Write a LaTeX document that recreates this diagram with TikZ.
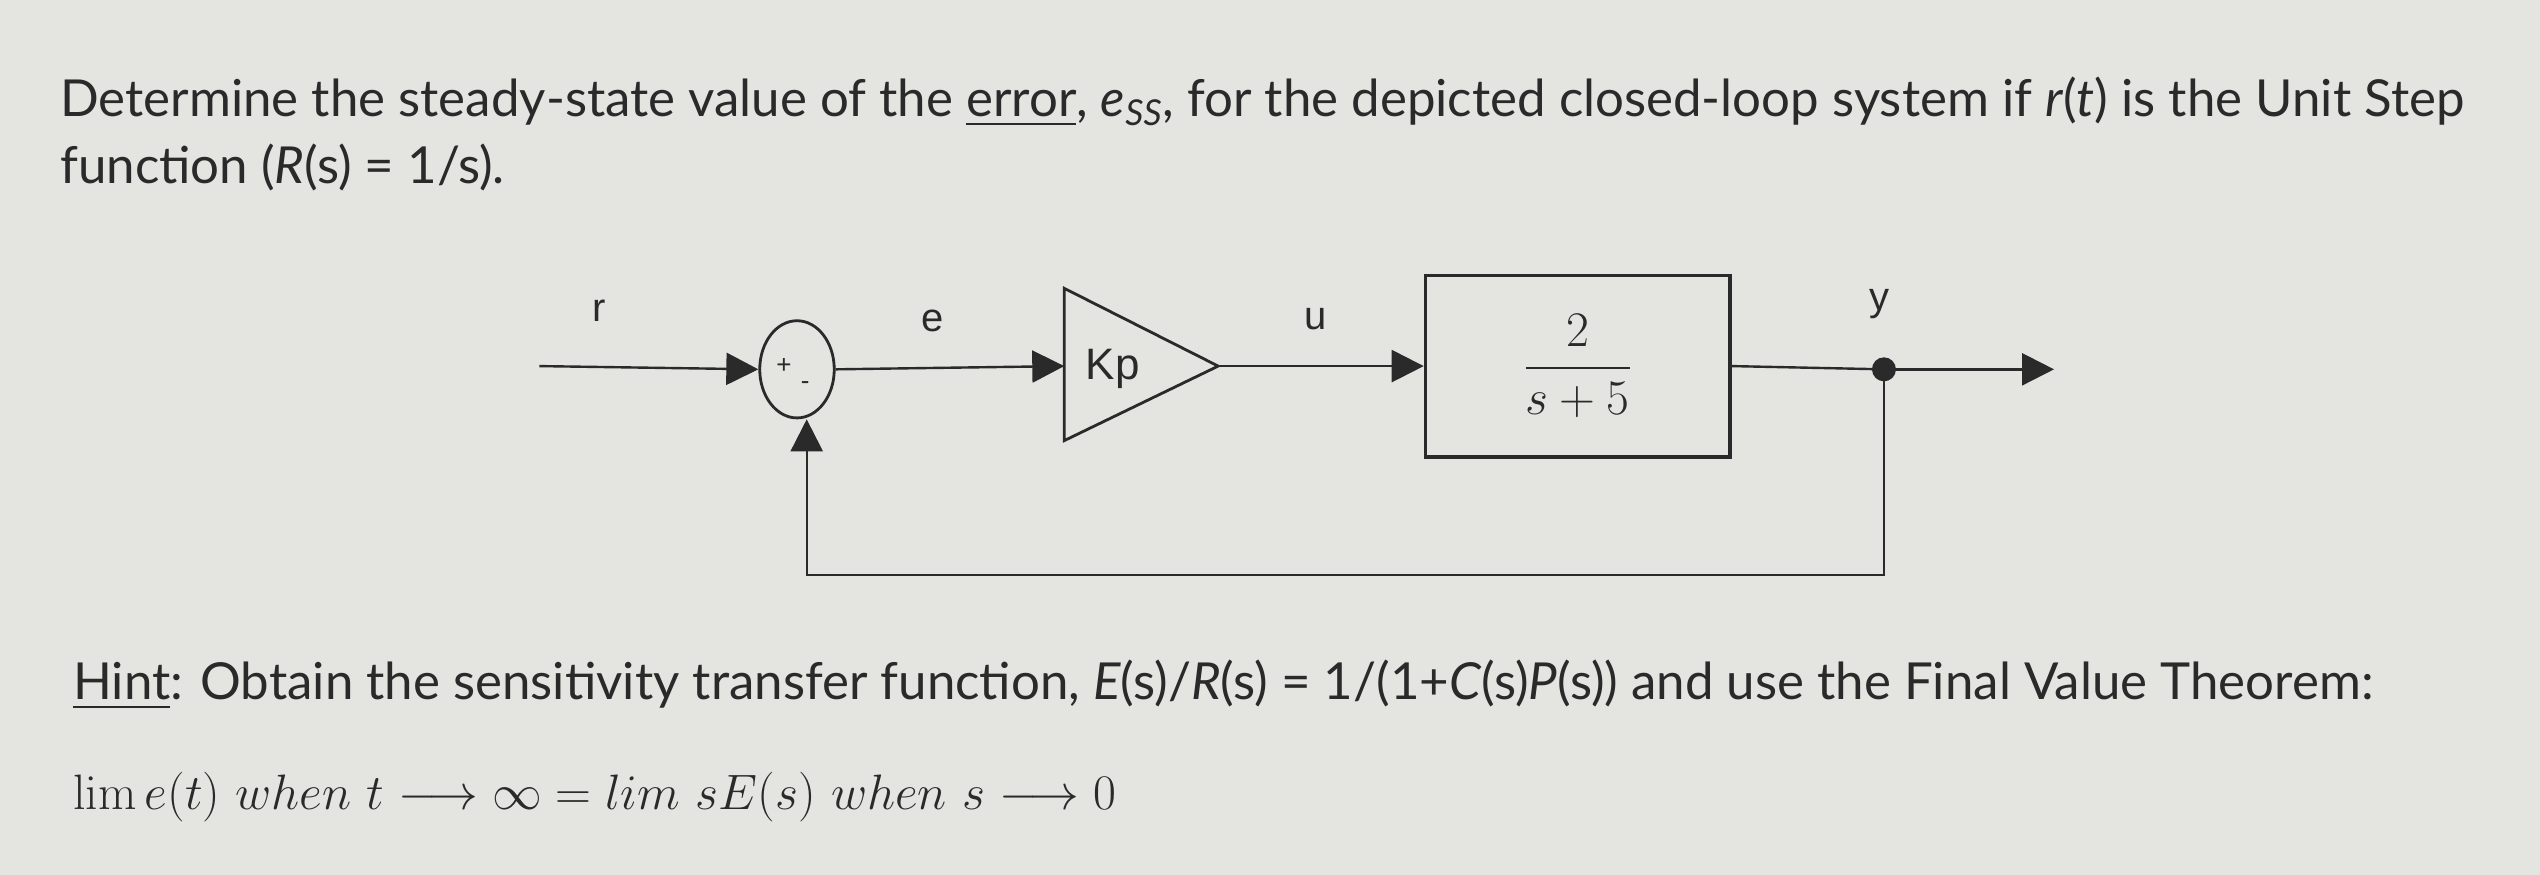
\documentclass[tikz,border=0pt]{standalone}
\usepackage{amsmath}
\usepackage[no-math]{fontspec}
\setmainfont{Lato}
\newfontfamily\arialf{Liberation Sans}
\usetikzlibrary{arrows.meta,shapes.geometric}
\definecolor{bg}{HTML}{E4E5E1}
\definecolor{ink}{HTML}{2A2A2A}
\begin{document}
\begin{tikzpicture}[x=0.81pt,y=-0.81pt,
  wire/.style={draw=ink,line width=1.2pt},
  arr/.style={wire,-{Triangle[length=16pt,width=16pt]}},
  lbl/.style={font=\arialf\fontsize{20}{24}\selectfont,text=ink},
  txt/.style={anchor=base west,inner sep=0,text=ink,font=\fontsize{25.5}{30}\selectfont}]
\fill[bg] (0,0) rectangle (1568,540);
\useasboundingbox (0,0) rectangle (1568,540);
\node[txt] (t1) at (37,72) {Determine the steady-state value of the \underline{error}, \textit{e}\textsubscript{\textit{SS}}, for the depicted closed-loop system if \textit{r}(\textit{t}) is the Unit Step};
\node[txt] (t2) at (37,113) {function (\textit{R}(s) = 1/s).};
% diagram
\coordinate (rin) at (333,226);
\node[draw=ink,line width=1.4pt,ellipse,minimum width=46*0.81pt,minimum height=60*0.81pt,inner sep=0] (sum) at (492,228) {};
\node[font=\arialf\fontsize{13}{13}\selectfont,text=ink] (plus) at (484,226) {+};
\node[font=\arialf\fontsize{13}{13}\selectfont,text=ink] (minus) at (497,238) {-};
\coordinate (kpl) at (657,226);
\draw[wire,line width=1.4pt] (657,178) -- (752,226) -- (657,272) -- cycle;
\coordinate (kpt) at (752,226);
\node[lbl,font=\arialf\fontsize{22}{26}\selectfont] (kp) at (687,228) {Kp};
\node[draw=ink,line width=1.8pt,minimum width=188*0.81pt,minimum height=112*0.81pt,inner sep=0] (plant) at (974,226) {};
\node[text=ink,font=\fontsize{30}{34}\selectfont] (frac) at (974,226) {$\dfrac{2}{s+5}$};
\fill[ink] (1163,228) circle (6pt) coordinate (dot);
\coordinate (out) at (1268,228);
\coordinate (fb1) at (1163,355);
\coordinate (fb2) at (498,355);
\draw[arr] (rin) -- (sum.west);
\draw[arr] (sum.east) -- (kpl);
\draw[arr] (kpt) -- (plant.west);
\draw[wire] (plant.east) -- (dot);
\draw[arr] (dot) -- (out);
\draw[arr] (dot) -- (fb1) -- (fb2) -- (sum.south -| fb2);
\node[lbl] (lr) at (370,192) {r};
\node[lbl] (le) at (576,198) {e};
\node[lbl] (lu) at (812,197) {u};
\node[lbl] (ly) at (1160,188) {y};
% hint
\node[txt] (h1) at (45,432) {\underline{Hint}: Obtain the sensitivity transfer function, \textit{E}(s)/\textit{R}(s) = 1/(1+\textit{C}(s)\textit{P}(s)) and use the Final Value Theorem:};
\node[anchor=base west,inner sep=0,text=ink,font=\fontsize{30}{34}\selectfont] (h2) at (45,500) {$\lim e(t)\ when\ t\longrightarrow\infty = lim\ sE(s)\ when\ s\longrightarrow 0$};
\end{tikzpicture}
\end{document}
